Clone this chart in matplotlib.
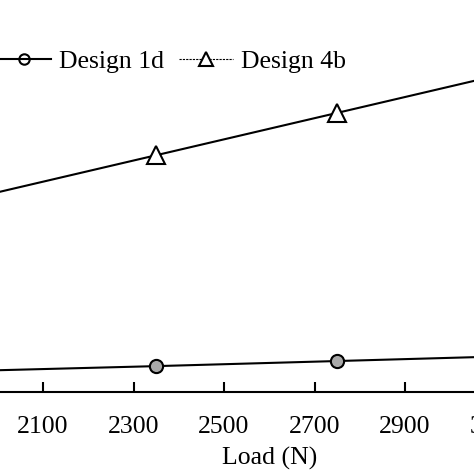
import numpy as np
import matplotlib
matplotlib.use("Agg")
import matplotlib.pyplot as plt
from matplotlib.lines import Line2D

# load values (N) and response for the two designs
load = [1950, 2350, 2750, 3150]
design_1d = [2.7, 3.3, 3.95, 4.6]
design_4b = [24.8, 30.2, 35.6, 41.0]
xticks = [1900, 2100, 2300, 2500, 2700, 2900, 3100, 3300]

plt.rcParams['font.family'] = ['Liberation Serif', 'DejaVu Serif']
plt.rcParams['font.size'] = 18.5

fig = plt.figure(figsize=(4.74, 4.74), dpi=100)
# axes is wider than the figure: the reference is a crop of a bigger chart
ax = fig.add_axes([-47.5 / 474, (474 - 392) / 474, 633.5 / 474, 392 / 474 + 0.05])

ax.plot(load, design_1d, color='black', lw=1.5, marker='o', ms=9.5,
        mfc='#a8a8a8', mec='black', mew=1.5)
ax.plot(load, design_4b, color='black', lw=1.5, marker='^', ms=13,
        mfc='white', mec='black', mew=1.5)

ax.set_xlim(1900, 3300)
ax.set_ylim(0, 50 * (1 + 0.05 * 474 / 392))
ax.set_xticks(xticks)
ax.set_yticks([])
ax.tick_params(axis='x', direction='in', length=7.5, width=1.5, pad=17.5)
for s in ['top', 'left', 'right']:
    ax.spines[s].set_visible(False)
ax.spines['bottom'].set_linewidth(1.5)
ax.set_xlabel('Load (N)', labelpad=6)

h1 = Line2D([], [], color='black', lw=1.5, marker='o', ms=7.5, mfc='none', mec='black', mew=1.5)
h2 = Line2D([], [], color='black', lw=0.8, ls=(0, (2, 1)), marker='^', ms=10.5, mfc='white', mec='black', mew=1.5)
fig.legend([h1, h2], ['Design 1d', 'Design 4b'], ncol=2, frameon=False,
           loc='center left', bbox_to_anchor=(-3 / 474, 1 - 62 / 474),
           borderaxespad=0, borderpad=0, handlelength=2.1, handletextpad=0.3,
           columnspacing=0.6)

fig.savefig('out.png', dpi=100)
